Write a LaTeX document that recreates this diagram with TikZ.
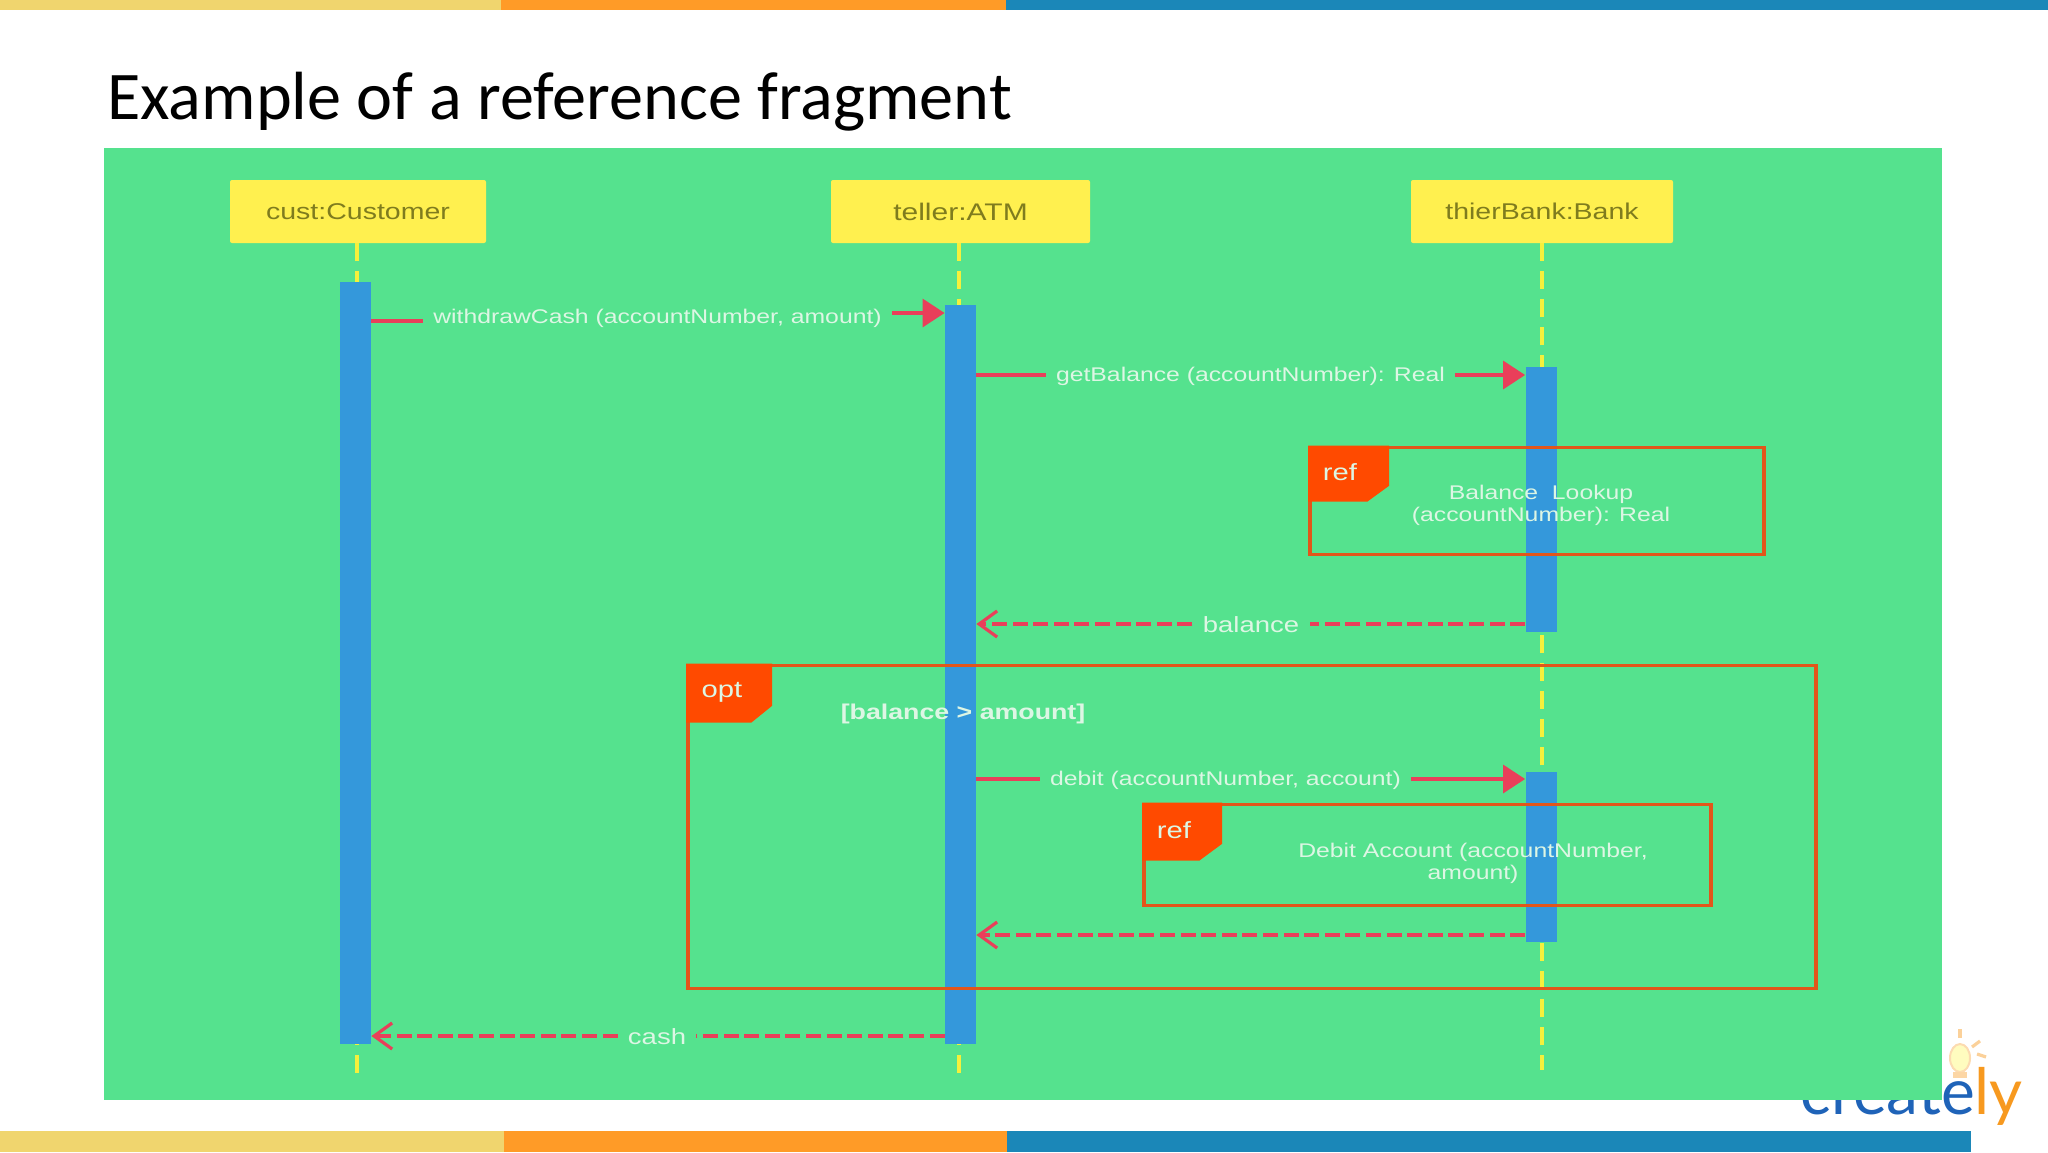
\documentclass[tikz,border=0pt]{standalone}
\usepackage{fontspec}
\setmainfont{Carlito}
\newfontfamily\diagfont[FakeStretch=1.25]{Liberation Sans}
\newfontfamily\logofont{Lato}
\usetikzlibrary{arrows.meta}
\definecolor{slidegreen}{HTML}{55E28E}
\definecolor{barblue}{HTML}{3498DB}
\definecolor{headyellow}{HTML}{FFF04F}
\definecolor{lifeyellow}{HTML}{F5F03C}
\definecolor{msgred}{HTML}{E93F5A}
\definecolor{framered}{HTML}{E2561A}
\definecolor{tagred}{HTML}{FF4A00}
\definecolor{softwhite}{HTML}{DDF6E4}
\definecolor{olivetext}{HTML}{7F7C1E}
\definecolor{stripeyellow}{HTML}{F0D56E}
\definecolor{stripeorange}{HTML}{FF9B27}
\definecolor{stripeblue}{HTML}{1B87B8}
\definecolor{logoblue}{HTML}{1F63B8}
\definecolor{logoorange}{HTML}{F7991F}
\tikzset{
    actorbox/.style={fill=headyellow, text=olivetext, rounded corners=1pt, minimum height=31.5pt, inner sep=0pt, font=\diagfont\fontsize{11.4}{13}\selectfont},
    actbar/.style={fill=barblue, minimum width=15.5pt, inner sep=0pt},
    lifeline/.style={draw=lifeyellow, line width=2pt, dash pattern=on 9pt off 5pt},
    msgtext/.style={text=softwhite, inner ysep=2pt, inner xsep=5pt, font=\diagfont\fontsize{9.9}{11}\selectfont},
    rettext/.style={msgtext, font=\diagfont\fontsize{11}{12}\selectfont},
    msgline/.style={draw=msgred, line width=1.6pt},
    callarrow/.style={msgline, -{Triangle[length=11pt,width=14pt]}},
    retline/.style={msgline, dash pattern=on 7.5pt off 2.8pt},
    retarrow/.style={retline, -{Straight Barb[length=9pt,width=13pt]}},
    frame/.style={draw=framered, line width=1.8pt, inner sep=0pt},
    tagtext/.style={text=softwhite, inner sep=0pt, font=\diagfont\fontsize{11.7}{13}\selectfont},
}
\begin{document}
\begin{tikzpicture}[x=0.5pt, y=-0.5pt]
    \useasboundingbox (0,0) rectangle (2048,1152);

    % Stripes at top and bottom of the slide
    \fill[stripeyellow] (0,0) rectangle (501,9.5);
    \fill[stripeorange] (501,0) rectangle (1006,9.5);
    \fill[stripeblue] (1006,0) rectangle (2048,9.5);
    \fill[stripeyellow] (0,1131) rectangle (504,1152);
    \fill[stripeorange] (504,1131) rectangle (1007,1152);
    \fill[stripeblue] (1007,1131) rectangle (1971,1152);

    % Title
    \node[anchor=base west, inner sep=0pt, font=\fontsize{34.1}{36}\selectfont] (title) at (107,119) {Example of a reference fragment};

    % Logo, partly covered by the green panel
    \node[anchor=base west, inner sep=0pt, font=\logofont\fontsize{32}{36}\selectfont, text=logoblue] (logo) at (1800,1114) {create\textcolor{logoorange}{ly}};
    \fill[fill=yellow!25!white, draw=logoorange!35!white, line width=1pt] (1960,1058) ellipse (10 and 14);
    \fill[logoorange!40!white] (1953,1072) rectangle (1967,1078);
    \draw[logoorange!45!white, line width=1.6pt] (1960,1029) -- (1960,1038);
    \draw[logoorange!45!white, line width=1.6pt] (1980,1041) -- (1972,1047);
    \draw[logoorange!45!white, line width=1.6pt] (1986,1057) -- (1977,1054);

    % Green panel
    \fill[slidegreen] (104,148) rectangle (1942,1100);

    % Actors
    \node[actorbox, minimum width=128pt] (cust) at (358,211.5) {cust:Customer};
    \node[actorbox, minimum width=129.5pt, font=\diagfont\fontsize{12}{13}\selectfont] (teller) at (960.5,211.5) {teller:ATM};
    \node[actorbox, minimum width=131pt] (bank) at (1542,211.5) {thierBank:Bank};

    % Lifelines
    \coordinate (custend) at (356.5,1075);
    \coordinate (tellerend) at (959,1075);
    \coordinate (bankend) at (1542,1070);
    \draw[lifeline] (cust.south -| custend) -- (custend);
    \draw[lifeline] (teller.south -| tellerend) -- (tellerend);
    \draw[lifeline] (bank.south -| bankend) -- (bankend);

    % Activation bars
    \node[actbar, minimum height=381pt] (custbar) at (355.5,663) {};
    \node[actbar, minimum height=369.5pt] (tellerbar) at (960.5,674.5) {};
    \node[actbar, minimum height=132.5pt] (bankbarA) at (1541,499.5) {};
    \node[actbar, minimum height=85pt] (bankbarB) at (1541,857) {};

    % Fragments
    \node[frame, minimum width=227pt, minimum height=53.5pt] (reflookup) at (1537,501) {};
    \node[frame, minimum width=564pt, minimum height=161.5pt] (optframe) at (1252,827) {};
    \node[frame, minimum width=283.5pt, minimum height=50.5pt] (refdebit) at (1427.5,855) {};
    \fill[tagred] (reflookup.north west) -- ++(81,0) -- ++(0,40) -- ++(-22,16) -- ++(-59,0) -- cycle;
    \fill[tagred] (optframe.north west) -- ++(86,0) -- ++(0,42) -- ++(-21,17) -- ++(-65,0) -- cycle;
    \fill[tagred] (refdebit.north west) -- ++(80,0) -- ++(0,41) -- ++(-23,17) -- ++(-57,0) -- cycle;
    \node[tagtext] (reftagA) at (1340,472) {ref};
    \node[tagtext] (opttag) at (722,692) {opt};
    \node[tagtext] (reftagB) at (1174,830) {ref};

    % Fragment texts
    \node[msgtext, align=center] (lookuptext) at (1541,505.5) {Balance\ \ Lookup\\(accountNumber): Real};
    \node[msgtext, align=center] (debittext) at (1473,863.5) {Debit Account (accountNumber,\\amount)};
    \node[msgtext, font=\diagfont\bfseries\fontsize{10.7}{12}\selectfont] (guard) at (963,713.5) {[balance > amount]};

    % Messages
    \node[msgtext] (withdraw) at (657.5,318.5) {withdrawCash (accountNumber, amount)};
    \draw[msgline] (custbar.east |- 0,321) -- (withdraw.west |- 0,321);
    \draw[callarrow] (withdraw.east |- 0,313) -- (tellerbar.west |- 0,313);

    \node[msgtext] (getbal) at (1250.5,376) {getBalance (accountNumber): Real};
    \draw[msgline] (tellerbar.east |- 0,375) -- (getbal.west |- 0,375);
    \draw[callarrow] (getbal.east |- 0,375) -- (bankbarA.west |- 0,375);

    \node[rettext] (balance) at (1251,624.5) {balance};
    \draw[retline] (bankbarA.west |- 0,624) -- (balance.east |- 0,624);
    \draw[retarrow] (balance.west |- 0,624) -- (tellerbar.east |- 0,624);

    \node[msgtext] (debit) at (1225.5,780.5) {debit (accountNumber, account)};
    \draw[msgline] (tellerbar.east |- 0,779) -- (debit.west |- 0,779);
    \draw[callarrow] (debit.east |- 0,779) -- (bankbarB.west |- 0,779);

    \draw[retarrow] (bankbarB.west |- 0,935) -- (tellerbar.east |- 0,935);

    \node[rettext] (cash) at (657,1037) {cash};
    \draw[retline] (tellerbar.west |- 0,1036) -- (cash.east |- 0,1036);
    \draw[retarrow] (cash.west |- 0,1036) -- (custbar.east |- 0,1036);
\end{tikzpicture}
\end{document}
